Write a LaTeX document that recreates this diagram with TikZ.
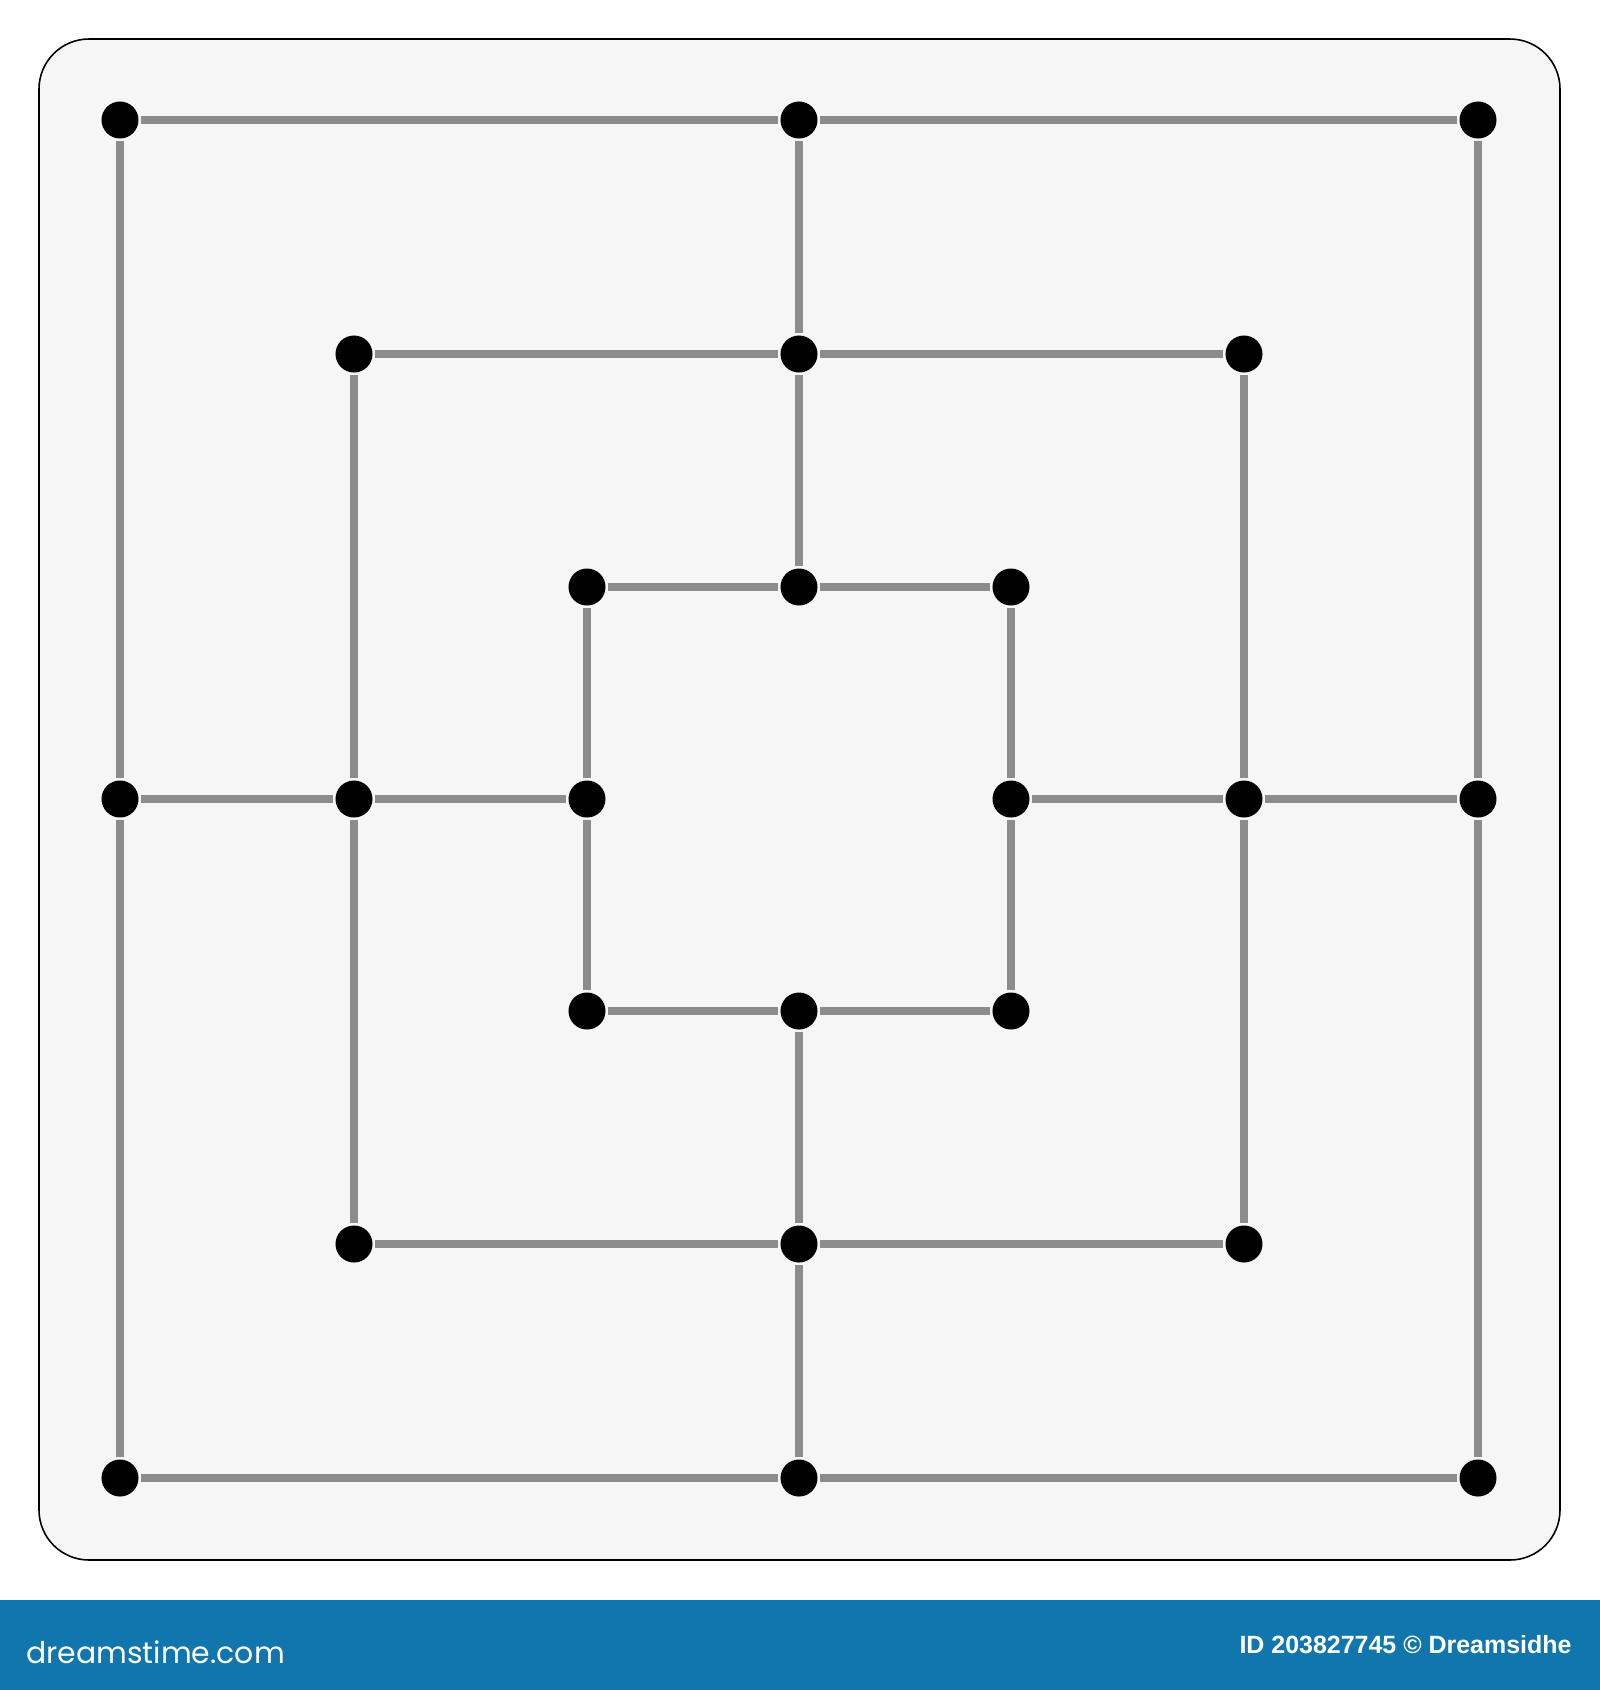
\documentclass[tikz,border=0pt]{standalone}
\usepackage{fontspec}
\setmainfont{Liberation Sans}
\newfontfamily\logofont{Poppins}
\definecolor{boardfill}{HTML}{F6F6F6}
\definecolor{linegray}{HTML}{8C8C8C}
\definecolor{barblue}{HTML}{1176AE}
\tikzset{spot/.style={circle, fill=black, minimum size=0.37cm, inner sep=0pt, outer sep=0.6pt},
  track/.style={draw=linegray, line width=2.5pt}}

\begin{document}
\begin{tikzpicture}[x=0.01cm, y=-0.01cm]
\useasboundingbox (0,0) rectangle (1600,1690);
\fill[white] (0,0) rectangle (1600,1690);
\draw[fill=boardfill, line width=0.45pt, rounded corners=0.5cm] (39,39) rectangle (1560,1560);
\fill[barblue] (0,1600) rectangle (1600,1690);

% three rings of spots
\foreach \r/\d in {o/679, m/445, i/212}
{
  \node[spot] (\r-tl) at (799-\d,799-\d) {};
  \node[spot] (\r-t)  at (799,799-\d)    {};
  \node[spot] (\r-tr) at (799+\d,799-\d) {};
  \node[spot] (\r-r)  at (799+\d,799)    {};
  \node[spot] (\r-br) at (799+\d,799+\d) {};
  \node[spot] (\r-b)  at (799,799+\d)    {};
  \node[spot] (\r-bl) at (799-\d,799+\d) {};
  \node[spot] (\r-l)  at (799-\d,799)    {};
}

\foreach \r in {o,m,i}
{
  \draw[track] (\r-tl) -- (\r-t);
  \draw[track] (\r-t) -- (\r-tr);
  \draw[track] (\r-tr) -- (\r-r);
  \draw[track] (\r-r) -- (\r-br);
  \draw[track] (\r-br) -- (\r-b);
  \draw[track] (\r-b) -- (\r-bl);
  \draw[track] (\r-bl) -- (\r-l);
  \draw[track] (\r-l) -- (\r-tl);
}
\foreach \s in {t,r,b,l}
{
  \draw[track] (o-\s) -- (m-\s);
  \draw[track] (m-\s) -- (i-\s);
}

\node[anchor=west, text=white, font=\logofont\fontsize{8.5}{10}\selectfont] (logo) at (14,1652) {dreamstime.com};
\node[anchor=east, text=white, font=\bfseries\fontsize{7.1}{8}\selectfont] (credit) at (1584,1645) {ID 203827745 © Dreamsidhe};
\end{tikzpicture}
\end{document}
